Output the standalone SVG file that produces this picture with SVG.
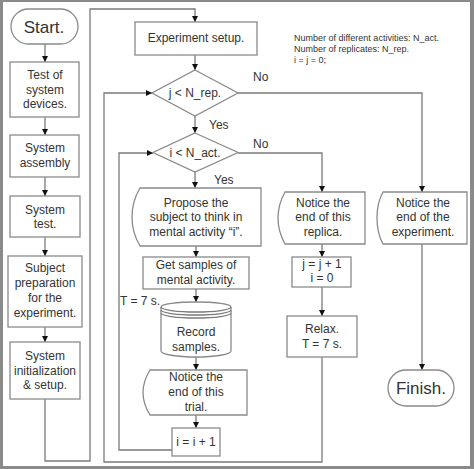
<svg xmlns="http://www.w3.org/2000/svg" width="474" height="469" viewBox="0 0 474 469">
<defs>
<style>
.b{fill:#fff;stroke:#8a8a8a;stroke-width:1.3}
.l{fill:none;stroke:#7a7a7a;stroke-width:1.3}
text{font-family:"Liberation Sans",Arial,sans-serif;fill:#333;font-size:12px;text-anchor:middle}
.big{font-size:17px}
.note{font-size:9px;text-anchor:start}
.lab{text-anchor:start}
</style>
<marker id="a" viewBox="0 0 10 10" refX="10" refY="5" markerWidth="6" markerHeight="6" orient="auto" markerUnits="userSpaceOnUse">
<path d="M0,0 L10,5 L0,10 Z" fill="#111"/>
</marker>
</defs>
<rect x="0" y="0" width="474" height="469" fill="#8a8a8a"/>
<rect x="3" y="2" width="467" height="464" fill="#fff"/>

<g id="connectors" class="l">
<path class="l" d="M45,44 V62" marker-end="url(#a)"/>
<path class="l" d="M45,117 V135" marker-end="url(#a)"/>
<path class="l" d="M45,177 V196" marker-end="url(#a)"/>
<path class="l" d="M45,237 V256" marker-end="url(#a)"/>
<path class="l" d="M45,327 V342" marker-end="url(#a)"/>
<path class="l" d="M45,399 V461 H90 V9 H195 V22" marker-end="url(#a)"/>
<path class="l" d="M195,55 V70" marker-end="url(#a)"/>
<path class="l" d="M195,116 V133" marker-end="url(#a)"/>
<path class="l" d="M195,172 V188" marker-end="url(#a)"/>
<path class="l" d="M196,246 V257" marker-end="url(#a)"/>
<path class="l" d="M196,289 V302" marker-end="url(#a)"/>
<path class="l" d="M196,357 V370" marker-end="url(#a)"/>
<path class="l" d="M196,415 V428" marker-end="url(#a)"/>
<path class="l" d="M172,450 H119 V153 H153" marker-end="url(#a)"/>
<path class="l" d="M238,93 H422 V192" marker-end="url(#a)"/>
<path class="l" d="M238,153 H322 V192" marker-end="url(#a)"/>
<path class="l" d="M322,244 V257" marker-end="url(#a)"/>
<path class="l" d="M322,287 V316" marker-end="url(#a)"/>
<path class="l" d="M322,357 V462 H104 V93 H152" marker-end="url(#a)"/>
<path class="l" d="M422,244 V370" marker-end="url(#a)"/>
</g>

<g id="start"><rect class="b" x="11" y="9" width="67" height="35" rx="17.5"/><text class="big" x="44" y="33">Start.</text></g>
<g id="test-devices"><rect class="b" x="10" y="62" width="69" height="55"/><text x="45" y="79">Test of</text><text x="45" y="94">system</text><text x="45" y="108">devices.</text></g>
<g id="assembly"><rect class="b" x="10" y="135" width="69" height="42"/><text x="45" y="152">System</text><text x="45" y="167">assembly</text></g>
<g id="system-test"><rect class="b" x="10" y="196" width="70" height="41"/><text x="45" y="214">System</text><text x="45" y="228">test.</text></g>
<g id="subject-prep"><rect class="b" x="8" y="256" width="74" height="71"/><text x="45" y="272">Subject</text><text x="45" y="287">preparation</text><text x="45" y="302">for the</text><text x="45" y="317">experiment.</text></g>
<g id="init"><rect class="b" x="10" y="342" width="70" height="57"/><text x="45" y="360">System</text><text x="45" y="375">initialization</text><text x="45" y="389">&amp; setup.</text></g>

<g id="exp-setup"><rect class="b" x="135" y="22" width="122" height="33"/><text x="196" y="42">Experiment setup.</text></g>
<g id="note"><text class="note" x="294" y="41">Number of different activities: N_act.</text><text class="note" x="294" y="52">Number of replicates: N_rep.</text><text class="note" x="294" y="63">i = j = 0;</text></g>

<g id="cond-rep"><path class="b" d="M195,70 L238,93 L195,116 L152,93 Z"/><text x="195" y="97">j &lt; N_rep.</text></g>
<g id="cond-act"><path class="b" d="M195,133 L238,152.5 L195,172 L153,152.5 Z"/><text x="195" y="157">i &lt; N_act.</text></g>
<g id="labels"><text class="lab" x="209" y="129">Yes</text><text class="lab" x="214" y="184">Yes</text><text class="lab" x="253" y="81">No</text><text class="lab" x="253" y="148">No</text></g>

<g id="propose"><path class="b" d="M140,188 H261 V246 H140 C134,236 132,225 132,217 C132,209 134,198 140,188 Z"/><text x="196" y="207">Propose the</text><text x="196" y="221">subject to think in</text><text x="196" y="236">mental activity “i”.</text></g>
<g id="get-samples"><rect class="b" x="143" y="257" width="106" height="32"/><text x="196" y="269">Get samples of</text><text x="196" y="284">mental activity.</text></g>
<g id="t-label"><text class="lab" x="120" y="305">T = 7 s.</text></g>
<g id="record"><path class="b" d="M161,307 V351 A35,6 0 0 0 231,351 V307 A35,5 0 0 0 161,307 Z"/><path class="l" d="M161,307 A35,5 0 0 0 231,307 M161,310 A35,5 0 0 0 231,310 M161,313 A35,5 0 0 0 231,313"/><text x="196" y="336">Record</text><text x="196" y="351">samples.</text></g>
<g id="notice-trial"><path class="b" d="M150,370 H247 V415 H150 C145,407 143,399 143,392.5 C143,386 145,378 150,370 Z"/><text x="196" y="381">Notice the</text><text x="196" y="396">end of this</text><text x="196" y="411">trial.</text></g>
<g id="inc-i"><rect class="b" x="172" y="428" width="48" height="28"/><text x="196" y="446">i = i + 1</text></g>

<g id="notice-replica"><path class="b" d="M285,192 H365 V244 H285 C280,235 278,226 278,218 C278,210 280,201 285,192 Z"/><text x="323" y="207">Notice the</text><text x="323" y="221">end of this</text><text x="323" y="236">replica.</text></g>
<g id="inc-j"><rect class="b" x="292" y="257" width="59" height="30"/><text x="322" y="268">j = j + 1</text><text x="322" y="282">i = 0</text></g>
<g id="relax"><rect class="b" x="287" y="316" width="70" height="41"/><text x="322" y="333">Relax.</text><text x="322" y="348">T = 7 s.</text></g>

<g id="notice-exp"><path class="b" d="M383,192 H467 V244 H383 C378,235 377,226 377,218 C377,210 378,201 383,192 Z"/><text x="423" y="207">Notice the</text><text x="423" y="221">end of the</text><text x="423" y="236">experiment.</text></g>
<g id="finish"><rect class="b" x="388" y="370" width="66" height="36" rx="18"/><text class="big" x="421" y="394">Finish.</text></g>
</svg>
